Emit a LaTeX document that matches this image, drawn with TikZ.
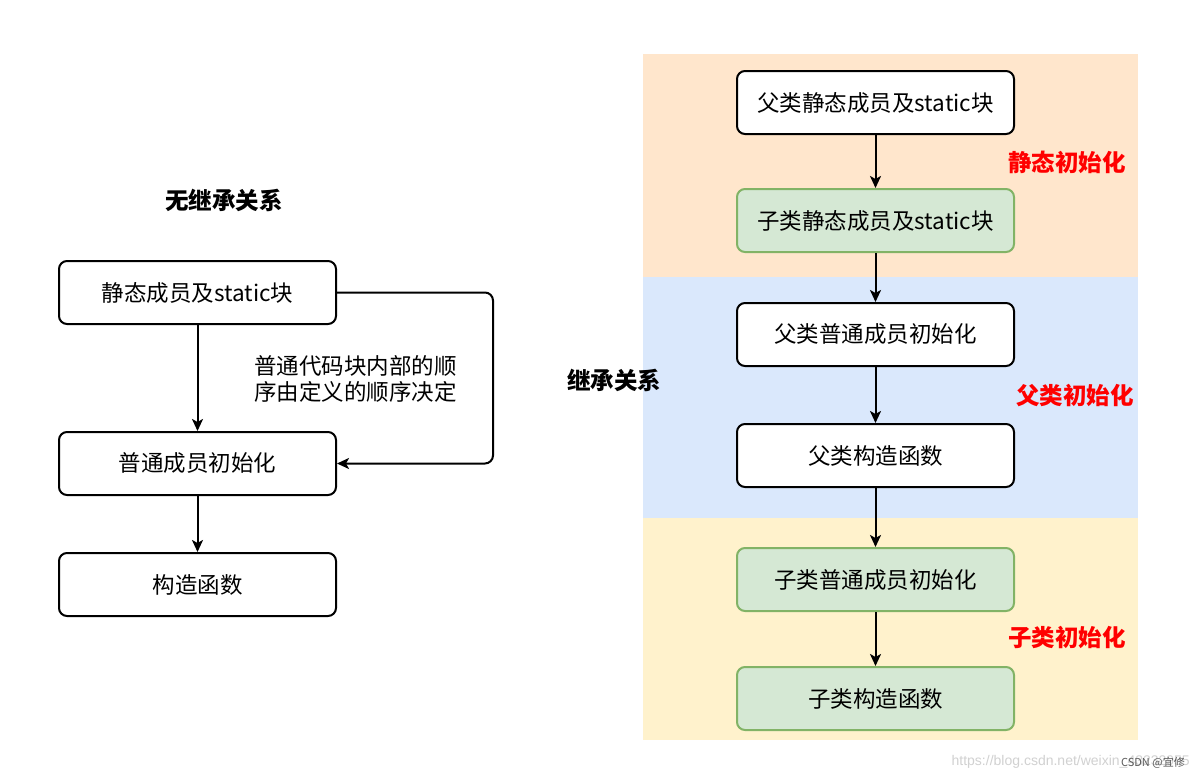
\documentclass[tikz,border=0pt]{standalone}
\usepackage{fontspec}
\setmainfont{Noto Sans CJK SC}
\newfontfamily\wmfont{Liberation Sans}
\usetikzlibrary{arrows.meta}
\definecolor{bandorange}{HTML}{FFE6CC}
\definecolor{bandblue}{HTML}{DAE8FC}
\definecolor{bandyellow}{HTML}{FFF2CC}
\definecolor{greenfill}{HTML}{D5E8D4}
\definecolor{greenline}{HTML}{82B366}
\definecolor{redlabel}{HTML}{FF0000}
\tikzset{
  stepbox/.style={draw=black, fill=white, line width=2pt, rounded corners=8pt,
    minimum width=277pt, minimum height=63pt, inner sep=0pt,
    font=\fontsize{22.5}{26}\selectfont},
  greenbox/.style={stepbox, draw=greenline, fill=greenfill},
  flow/.style={line width=2pt, -{Stealth[length=12pt,width=11pt,inset=3pt]}},
  titletext/.style={font=\fontsize{23.5}{27}\selectfont\bfseries},
  redtext/.style={titletext, text=redlabel},
}
\begin{document}
\begin{tikzpicture}[x=1pt,y=-1pt]
\useasboundingbox (0,0) rectangle (1200,779);
\fill[white] (0,0) rectangle (1200,779);
% bands
\fill[bandorange] (643,54) rectangle (1138,277);
\fill[bandblue] (643,277) rectangle (1138,518);
\fill[bandyellow] (643,518) rectangle (1138,740);

% left diagram
\node[titletext] (t1) at (224,200) {无继承关系};
\node[stepbox] (l1) at (197.5,292.5) {静态成员及static块};
\node[stepbox] (l2) at (197.5,463.5) {普通成员初始化};
\node[stepbox] (l3) at (197.5,584.5) {构造函数};
\draw[flow] (l1) -- (l2);
\draw[flow] (l2) -- (l3);
\coordinate (c1) at (493,292.5);
\coordinate (c2) at (493,463.5);
\draw[flow, rounded corners=8pt] (l1.east) -- (c1) -- (c2) -- (l2.east);
\node[anchor=west, align=left, font=\fontsize{22.5}{26}\selectfont, inner sep=0pt] (lab) at (254,379)
  {普通代码块内部的顺\\序由定义的顺序决定};

% right diagram
\node[titletext] (t2) at (614,380) {继承关系};
\node[stepbox] (r1) at (875.5,102.5) {父类静态成员及static块};
\node[greenbox] (r2) at (875.5,220.5) {子类静态成员及static块};
\node[stepbox] (r3) at (875.5,334.5) {父类普通成员初始化};
\node[stepbox] (r4) at (875.5,455.5) {父类构造函数};
\node[greenbox] (r5) at (875.5,579.5) {子类普通成员初始化};
\node[greenbox] (r6) at (875.5,698.5) {子类构造函数};
\draw[flow] (r1) -- (r2);
\draw[flow] (r2) -- (r3);
\draw[flow] (r3) -- (r4);
\draw[flow] (r4) -- (r5);
\draw[flow] (r5) -- (r6);
\node[redtext] (s1) at (1067,162) {静态初始化};
\node[redtext] (s2) at (1075,396) {父类初始化};
\node[redtext] (s3) at (1067,637) {子类初始化};

% watermark
\node[anchor=east, text=black!18, font=\wmfont\fontsize{14}{16}\selectfont, inner sep=0pt] (wm) at (1190,762) {https://blog.csdn.net/weixin\_43232955};
\node[anchor=east, text=black!65, font=\fontsize{11}{13}\selectfont, inner sep=0pt] (wm2) at (1185,763) {CSDN @宜修};
\end{tikzpicture}
\end{document}
